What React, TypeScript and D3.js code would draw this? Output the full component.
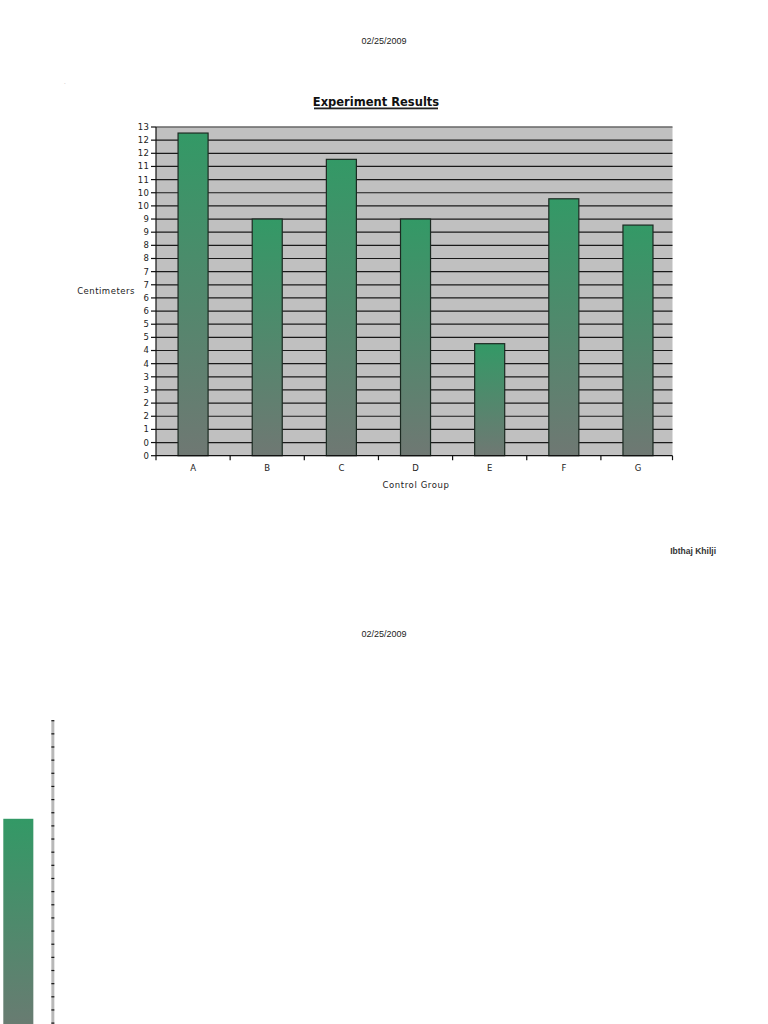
import React from "react";
import * as d3 from "d3";

const categories = ["A", "B", "C", "D", "E", "F", "G"];
const values = [12.27, 9.0, 11.27, 9.0, 4.26, 9.77, 8.77];
const tickValues = d3.range(0, 12.5001, 0.5);
const tickLabels = ["0", "0", "1", "2", "2", "3", "3", "4", "4", "5", "5", "6", "6", "7", "7", "8", "8", "9", "9", "10", "10", "11", "11", "12", "12", "13"];
const titleText = "Experiment Results";
const xTitle = "Control Group";
const yTitle = "Centimeters";
const dateText = "02/25/2009";
const authorText = "Ibthaj Khilji";

const W = 768;
const H = 1024;
const plot = { left: 156, right: 672.5, top: 127, bottom: 455.7 };

export default function App() {
  const x = d3
    .scaleBand<string>()
    .domain(categories)
    .range([plot.left, plot.left + 7 * 74.15])
    .paddingInner(0.595)
    .paddingOuter(0.2975);
  const y = d3.scaleLinear().domain([0, 12.5]).range([plot.bottom, plot.top]);
  const step = x.step();
  const boundaries = d3.range(0, categories.length).map((k) => plot.left + k * step).concat([plot.right]);
  const sans = "'DejaVu Sans', Verdana, sans-serif";
  const arial = "'Liberation Sans', Arial, sans-serif";
  const gIdx = categories.length - 1;
  const fragShift = { dx: 3.3 - (x(categories[gIdx]) as number), dy: 593.7 };

  return (
    <div style={{ position: "absolute", left: 0, top: 0, width: W, height: H, overflow: "hidden" }}>
      <svg width={W} height={H} style={{ display: "block", background: "#fff" }}>
        <defs>
          <linearGradient id="barGrad" x1="0" y1="0" x2="0" y2="1">
            <stop offset="0%" stopColor="#339966" />
            <stop offset="100%" stopColor="#6f7873" />
          </linearGradient>
        </defs>

        <text x={384} y={44} textAnchor="middle" fontFamily={arial} fontSize={9} fill="#222">
          {dateText}
        </text>
        <text x={64} y={84} fontFamily={arial} fontSize={6} fill="#999">.</text>

        <text x={376} y={106} textAnchor="middle" fontFamily={sans} fontSize={11.5} fontWeight="bold" fill="#111">
          {titleText}
        </text>
        <rect x={314} y={107.5} width={124} height={1.8} fill="#222" />

        {/* plot area */}
        <rect x={plot.left} y={plot.top} width={plot.right - plot.left} height={plot.bottom - plot.top} fill="#c0c0c0" />
        {tickValues.slice(1, -1).map((v, i) => (
          <line key={"g" + i} x1={plot.left} x2={plot.right} y1={y(v)} y2={y(v)} stroke="#1a1a1a" strokeWidth={1.2} />
        ))}
        <line x1={plot.left} x2={plot.right} y1={plot.top} y2={plot.top} stroke="#666" strokeWidth={1.6} />

        {categories.map((c, i) => (
          <rect
            key={c}
            x={x(c)}
            y={y(values[i])}
            width={x.bandwidth()}
            height={plot.bottom - y(values[i])}
            fill="url(#barGrad)"
            stroke="#1c2a22"
            strokeWidth={1.2}
          />
        ))}

        {/* y axis */}
        <line x1={plot.left} x2={plot.left} y1={plot.top} y2={plot.bottom} stroke="#111" strokeWidth={1.2} />
        {tickValues.map((v, i) => (
          <g key={"t" + i}>
            <line x1={plot.left - 5} x2={plot.left} y1={y(v)} y2={y(v)} stroke="#111" strokeWidth={1.2} />
            <text x={plot.left - 7} y={y(v)} dy="0.35em" textAnchor="end" fontFamily={sans} fontSize={8.5} letterSpacing={0.2} fill="#222">
              {tickLabels[i]}
            </text>
          </g>
        ))}

        {/* x axis */}
        <line x1={plot.left} x2={plot.right} y1={plot.bottom} y2={plot.bottom} stroke="#111" strokeWidth={1.3} />
        {boundaries.map((bx, i) => (
          <line key={"xb" + i} x1={bx} x2={bx} y1={plot.bottom} y2={plot.bottom + 4.5} stroke="#111" strokeWidth={1.2} />
        ))}
        {categories.map((c) => (
          <text key={"xl" + c} x={(x(c) as number) + x.bandwidth() / 2} y={471} textAnchor="middle" fontFamily={sans} fontSize={8.5} fill="#222">
            {c}
          </text>
        ))}
        <text x={416} y={488} textAnchor="middle" fontFamily={sans} fontSize={8.5} letterSpacing={0.6} fill="#222">
          {xTitle}
        </text>
        <text x={106} y={294} textAnchor="middle" fontFamily={sans} fontSize={8.5} letterSpacing={0.5} fill="#222">
          {yTitle}
        </text>

        <text x={716} y={554} textAnchor="end" fontFamily={arial} fontSize={8.5} fontWeight="bold" fill="#333">
          {authorText}
        </text>

        <text x={384} y={637} textAnchor="middle" fontFamily={arial} fontSize={9} fill="#222">
          {dateText}
        </text>

        {/* continuation fragment of the chart on the next page */}
        <g transform={`translate(${fragShift.dx},${fragShift.dy})`}>
          <rect
            x={x(categories[gIdx])}
            y={y(values[gIdx])}
            width={x.bandwidth()}
            height={plot.bottom - y(values[gIdx])}
            fill="url(#barGrad)"
          />
          <rect x={plot.right - 1.5} y={plot.top} width={3} height={plot.bottom - plot.top} fill="#b8b8b8" />
          {tickValues.map((v, i) => (
            <line key={"ft" + i} x1={plot.right - 1.5} x2={plot.right + 1.5} y1={y(v)} y2={y(v)} stroke="#111" strokeWidth={1.2} />
          ))}
        </g>
      </svg>
    </div>
  );
}
